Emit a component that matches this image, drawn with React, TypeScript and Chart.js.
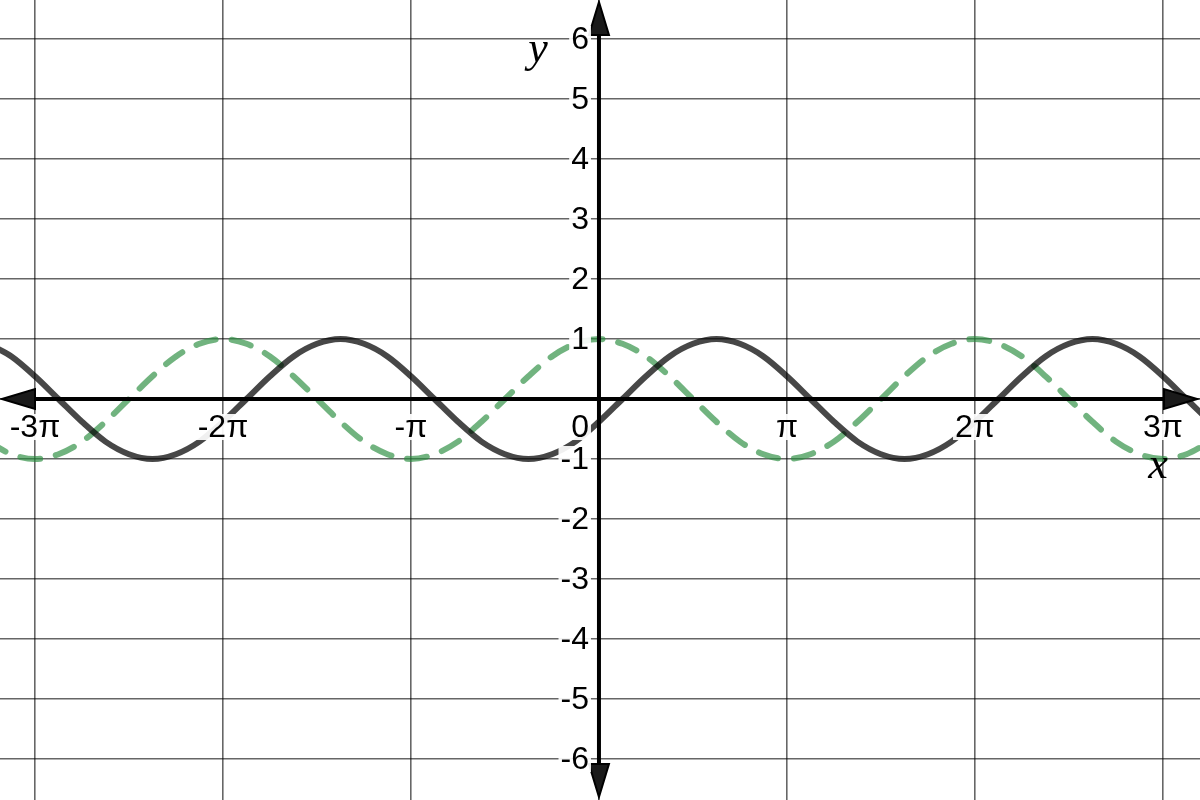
import React, { useEffect, useRef } from 'react';
import { Chart, registerables } from 'chart.js';

Chart.register(...registerables);

// x positions in multiples of π
const xValues = [
  -3.25, -3.125, -3, -2.875, -2.75, -2.625, -2.5, -2.375, -2.25, -2.125,
  -2, -1.875, -1.75, -1.625, -1.5, -1.375, -1.25, -1.125, -1, -0.875,
  -0.75, -0.625, -0.5, -0.375, -0.25, -0.125, 0, 0.125, 0.25, 0.375,
  0.5, 0.625, 0.75, 0.875, 1, 1.125, 1.25, 1.375, 1.5, 1.625,
  1.75, 1.875, 2, 2.125, 2.25, 2.375, 2.5, 2.625, 2.75, 2.875,
  3, 3.125, 3.25,
];

// green dashed curve
const dashedValues = [
  -0.71, -0.92, -1, -0.92, -0.71, -0.38, 0, 0.38, 0.71, 0.92,
  1, 0.92, 0.71, 0.38, 0, -0.38, -0.71, -0.92, -1, -0.92,
  -0.71, -0.38, 0, 0.38, 0.71, 0.92, 1, 0.92, 0.71, 0.38,
  0, -0.38, -0.71, -0.92, -1, -0.92, -0.71, -0.38, 0, 0.38,
  0.71, 0.92, 1, 0.92, 0.71, 0.38, 0, -0.38, -0.71, -0.92,
  -1, -0.92, -0.71,
];

// dark solid curve
const solidValues = [
  0.92, 0.71, 0.38, 0, -0.38, -0.71, -0.92, -1, -0.92, -0.71,
  -0.38, 0, 0.38, 0.71, 0.92, 1, 0.92, 0.71, 0.38, 0,
  -0.38, -0.71, -0.92, -1, -0.92, -0.71, -0.38, 0, 0.38, 0.71,
  0.92, 1, 0.92, 0.71, 0.38, 0, -0.38, -0.71, -0.92, -1,
  -0.92, -0.71, -0.38, 0, 0.38, 0.71, 0.92, 1, 0.92, 0.71,
  0.38, 0, -0.38,
];

const xTickValues = [-3, -2, -1, 1, 2, 3];
const xTickLabels = ['-3π', '-2π', '-π', 'π', '2π', '3π'];
const yTickValues = [6, 5, 4, 3, 2, 1, -1, -2, -3, -4, -5, -6];
const yTickLabels = ['6', '5', '4', '3', '2', '1', '-1', '-2', '-3', '-4', '-5', '-6'];

const X_MIN = -3.186;
const X_MAX = 3.197;
const Y_MIN = -6.683;
const Y_MAX = 6.65;

const axesPlugin = {
  id: 'axesOverlay',
  afterDatasetsDraw(chart: any) {
    const { ctx, chartArea: a, scales } = chart;
    const xs = scales.x;
    const ys = scales.y;
    const x0 = xs.getPixelForValue(0);
    const y0 = ys.getPixelForValue(0);
    ctx.save();
    ctx.strokeStyle = '#000';
    ctx.lineWidth = 4;
    ctx.lineCap = 'butt';
    ctx.beginPath();
    ctx.moveTo(a.left + 10, y0);
    ctx.lineTo(a.right - 10, y0);
    ctx.stroke();
    ctx.beginPath();
    ctx.moveTo(x0, a.top + 10);
    ctx.lineTo(x0, a.bottom - 10);
    ctx.stroke();

    const arrow = (tipX: number, tipY: number, dx: number, dy: number) => {
      const len = 33;
      const hw = 10;
      const bx = tipX - dx * len;
      const by = tipY - dy * len;
      ctx.beginPath();
      ctx.moveTo(tipX, tipY);
      ctx.lineTo(bx + dy * hw, by - dx * hw);
      ctx.lineTo(bx - dy * hw, by + dx * hw);
      ctx.closePath();
      ctx.fillStyle = '#1a1a1a';
      ctx.fill();
      ctx.lineWidth = 2;
      ctx.strokeStyle = '#000';
      ctx.lineJoin = 'miter';
      ctx.stroke();
    };
    arrow(a.left + 2, y0, -1, 0);
    arrow(a.right - 3, y0, 1, 0);
    arrow(x0, a.top + 2, 0, -1);
    arrow(x0, a.bottom - 3, 0, 1);

    ctx.font = '32px "Liberation Sans", Arial, sans-serif';
    const label = (text: string, x: number, y: number, align: string) => {
      ctx.textAlign = align;
      ctx.textBaseline = 'middle';
      const w = ctx.measureText(text).width;
      const left = align === 'right' ? x - w : align === 'center' ? x - w / 2 : x;
      ctx.fillStyle = 'rgba(255,255,255,0.92)';
      ctx.fillRect(left - 2, y - 13, w + 4, 26);
      ctx.fillStyle = '#000';
      ctx.fillText(text, x, y + 1);
    };
    xTickValues.forEach((v, i) => {
      label(xTickLabels[i], xs.getPixelForValue(v), y0 + 28, 'center');
    });
    yTickValues.forEach((v, i) => {
      label(yTickLabels[i], x0 - 10, ys.getPixelForValue(v), 'right');
    });
    label('0', x0 - 10, y0 + 28, 'right');

    ctx.font = 'italic 44px "Liberation Serif", "DejaVu Serif", serif';
    ctx.fillStyle = '#000';
    ctx.textAlign = 'center';
    ctx.textBaseline = 'alphabetic';
    ctx.fillText('y', x0 - 61, a.top + 62);
    ctx.fillText('x', a.right - 42, y0 + 79);
    ctx.restore();
  },
};

export default function App() {
  const canvasRef = useRef<HTMLCanvasElement | null>(null);

  useEffect(() => {
    if (!canvasRef.current) return;
    const chart = new Chart(canvasRef.current, {
      type: 'line',
      data: {
        datasets: [
          {
            label: 'solid',
            data: xValues.map((x, i) => ({ x, y: solidValues[i] })),
            borderColor: 'rgba(0,0,0,0.72)',
            borderWidth: 6,
            pointRadius: 0,
            cubicInterpolationMode: 'monotone',
            borderCapStyle: 'round',
            borderJoinStyle: 'round',
            fill: false,
          },
          {
            label: 'dashed',
            data: xValues.map((x, i) => ({ x, y: dashedValues[i] })),
            borderColor: 'rgba(40,140,60,0.66)',
            borderWidth: 6,
            borderDash: [20, 16],
            pointRadius: 0,
            cubicInterpolationMode: 'monotone',
            borderCapStyle: 'round',
            borderJoinStyle: 'round',
            fill: false,
          },
        ],
      },
      options: {
        animation: false,
        responsive: true,
        maintainAspectRatio: false,
        layout: { padding: 0 },
        plugins: {
          legend: { display: false },
          tooltip: { enabled: false },
        },
        events: [],
        scales: {
          x: {
            type: 'linear',
            min: X_MIN,
            max: X_MAX,
            ticks: { display: false, stepSize: 1, includeBounds: false },
            grid: { color: 'rgba(0,0,0,0.6)', lineWidth: 1.6, drawTicks: false },
            border: { display: false },
          },
          y: {
            type: 'linear',
            min: Y_MIN,
            max: Y_MAX,
            ticks: { display: false, stepSize: 1, includeBounds: false },
            grid: { color: 'rgba(0,0,0,0.6)', lineWidth: 1.6, drawTicks: false },
            border: { display: false },
          },
        },
      },
      plugins: [axesPlugin],
    } as any);
    return () => chart.destroy();
  }, []);

  return (
    <div
      style={{
        position: 'fixed',
        left: 0,
        top: 0,
        width: 1200,
        height: 800,
        background: '#fff',
      }}
    >
      <canvas ref={canvasRef} />
    </div>
  );
}
